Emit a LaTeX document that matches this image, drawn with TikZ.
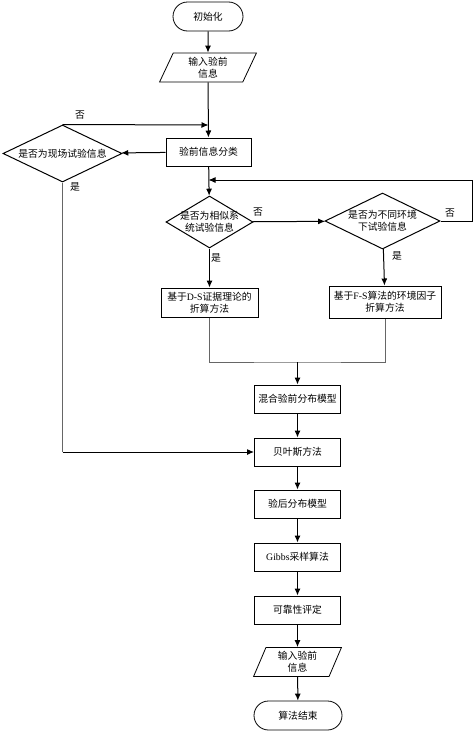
\documentclass[tikz,border=0pt]{standalone}
\usepackage{fontspec}
\setmainfont{Liberation Serif}
\newfontfamily\cjk{Noto Sans CJK SC}
\usetikzlibrary{shapes.geometric,shapes.misc,arrows.meta}
\tikzset{>={Latex[length=7pt,width=6pt]}}
\tikzset{
  box/.style={draw, line width=1pt, minimum width=86pt, minimum height=28pt, inner sep=1pt, align=center},
  io/.style={trapezium, trapezium left angle=70, trapezium right angle=110, trapezium stretches=true, draw, line width=0.8pt, minimum width=88pt, minimum height=29pt, inner sep=0pt, align=center},
  term/.style={rounded rectangle, draw, line width=0.8pt, minimum height=29pt, inner sep=0pt},
  decision/.style={diamond, draw, line width=1pt, inner sep=-6pt, align=center},
  flow/.style={->, line width=1pt},
  thinline/.style={line width=0.5pt, black!60},
  tag/.style={inner sep=0pt}
}

\begin{document}
\begin{tikzpicture}[x=1pt, y=-1pt, font=\cjk\fontsize{9.8}{12}\selectfont]
	\useasboundingbox (0,0) rectangle (474,731);

	% main column
	\node[term, minimum width=70pt] (init) at (208,16.5) {初始化};
	\node[io, minimum width=97pt] (input) at (208,67.5) {输入验前\\信息};
	\node[box, minimum width=85pt] (classify) at (208.5,152) {验前信息分类};
	\node[decision, aspect=2.1, minimum width=119pt, minimum height=57pt] (field) at (62.5,153.5) {是否为现场试验信息};
	\node[decision, aspect=1.67, minimum width=87pt, minimum height=52pt] (similar) at (209.5,222) {是否为相似系\\统试验信息};
	\node[decision, aspect=2.05, minimum width=115pt, minimum height=56pt] (environ) at (382.5,221) {是否为不同环境\\下试验信息};
	\node[box, minimum width=97pt, minimum height=29pt] (ds) at (209.5,302.5) {基于{\rmfamily D-S}证据理论的\\折算方法};
	\node[box, minimum width=112pt, minimum height=32pt] (fs) at (385,302) {基于{\rmfamily F-S}算法的环境因子\\折算方法};
	\node[box] (mix) at (297.5,399) {混合验前分布模型};
	\node[box] (bayes) at (297.5,452) {贝叶斯方法};
	\node[box] (post) at (297.5,504) {验后分布模型};
	\node[box] (gibbs) at (297.5,557) {{\rmfamily Gibbs}采样算法};
	\node[box] (assess) at (297.5,610) {可靠性评定};
	\node[io] (output) at (297.5,662) {输入验前\\信息};
	\node[term, minimum width=88pt] (finish) at (298,715.5) {算法结束};

	% branch labels
	\node[tag] (nofield) at (80,115) {否};
	\node[tag] (yesfield) at (75,187) {是};
	\node[tag] (nosimilar) at (258,212) {否};
	\node[tag] (noenviron) at (450,213) {否};
	\node[tag] (yessimilar) at (216,258) {是};
	\node[tag] (yesenviron) at (397,256) {是};

	\coordinate (fieldjoin) at (208.5,125);
	\coordinate (loopjoin) at (208.5,180);
	\coordinate (loopedge) at (472.5,180);
	\coordinate (merge) at (297.5,362);

	% connectors
	\draw[flow] (init) -- (input);
	\draw[flow] (input) -- (classify);
	\draw[flow] (classify) -- (field);
	\draw[flow] (field.north) -- (fieldjoin);
	\draw[flow] (classify) -- (similar);
	\draw[flow] (similar) -- (environ);
	\draw[flow] (similar) -- (ds);
	\draw[flow] (environ) -- (fs);
	\draw[flow] (environ.east) -| (loopedge) -- (loopjoin);
	\draw[thinline] (ds.south) |- (merge) -| (fs.south);
	\draw[flow] (merge) -- (mix);
	\draw[thinline] (field.south) -- (field.south |- bayes.west);
	\draw[flow] (field.south |- bayes.west) -- (bayes.west);
	\draw[flow] (mix) -- (bayes);
	\draw[flow] (bayes) -- (post);
	\draw[flow] (post) -- (gibbs);
	\draw[flow] (gibbs) -- (assess);
	\draw[flow] (assess) -- (output);
	\draw[flow] (output) -- (finish);
\end{tikzpicture}
\end{document}
